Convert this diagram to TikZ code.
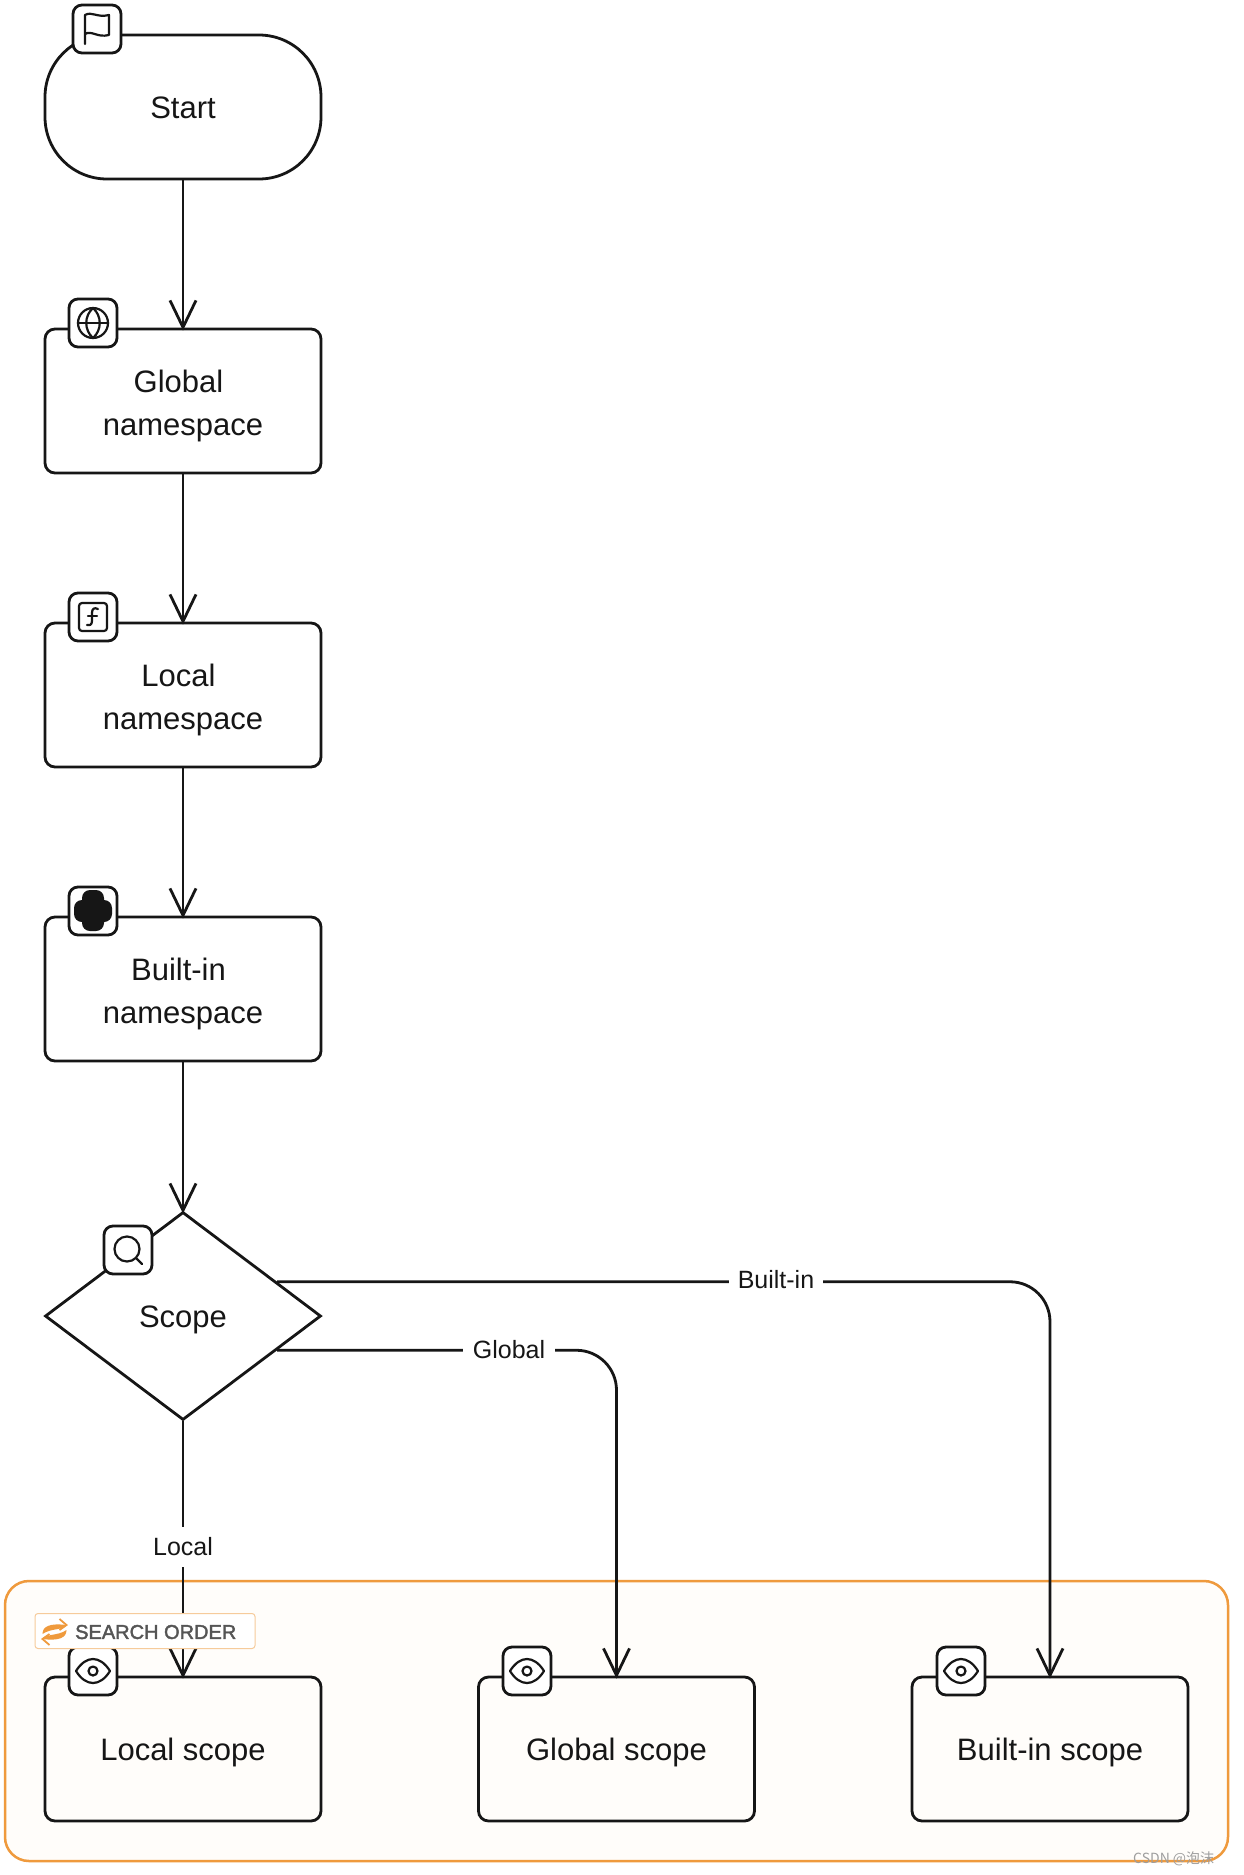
\documentclass[tikz,border=0pt]{standalone}
\usepackage{fontspec}
\setmainfont{Liberation Sans}
\newfontfamily\cjkwm{Noto Sans CJK SC}
\usetikzlibrary{arrows.meta,shapes.geometric}
\definecolor{ink}{HTML}{161616}
\definecolor{grouporange}{HTML}{EF9A3D}
\definecolor{groupfill}{HTML}{FFFDFA}
\definecolor{chipborder}{HTML}{F6CB9B}
\definecolor{chiptext}{HTML}{555555}
\newcommand{\labelstrut}{\rule[-8pt]{0pt}{38pt}}
\tikzset{
  x=1pt,y=-1pt,
  lw/.style={line width=2.8pt},
  boxbase/.style={draw=ink,lw,fill=white,rectangle,rounded corners=10pt,minimum width=276pt,minimum height=144pt,inner sep=0pt},
  flowbox/.style={boxbase,align=center,text=ink,font=\fontsize{31}{43}\selectfont,execute at begin node={\labelstrut}},
  twolinetext/.style={inner sep=0pt,align=center,text=ink,font=\fontsize{31}{43}\selectfont,yshift=-4.8pt},
  scopebox/.style={flowbox,fill=groupfill},
  badge/.style={draw=ink,lw,fill=white,rectangle,rounded corners=9pt,minimum width=48pt,minimum height=48pt,inner sep=0pt},
  flow/.style={draw=ink,lw,shorten >=-3pt,-{Straight Barb[length=27pt,width=26pt,line width=2.8pt]}},
  edgelabel/.style={fill=white,text=ink,inner sep=0pt,minimum height=36pt,font=\fontsize{25}{30}\selectfont},
  icon/.style={draw=ink,line width=2.2pt,line cap=round,line join=round},
}
\begin{document}
\begin{tikzpicture}
\useasboundingbox[fill=white] (0,0) rectangle (1244,1875);
% group
\node (group) [draw=grouporange,line width=2.5pt,fill=groupfill,rectangle,rounded corners=24pt,minimum width=1223pt,minimum height=280pt,inner sep=0pt] at (616.5,1721) {};
% nodes
\node (start) [flowbox,rounded corners=62pt] at (183,107) {Start};
\node (global) [boxbase,label={[twolinetext]center:Global\hspace*{9pt}\\namespace}] at (183,401) {};
\node (local) [boxbase,label={[twolinetext]center:Local\hspace*{9pt}\\namespace}] at (183,695) {};
\node (builtin) [boxbase,label={[twolinetext]center:Built-in\hspace*{9pt}\\namespace}] at (183,989) {};
\node (scope) [draw=ink,lw,fill=white,diamond,minimum width=276pt,minimum height=208pt,inner sep=0pt,text=ink,align=center,font=\fontsize{31}{36}\selectfont,execute at begin node={\labelstrut}] at (183,1316) {Scope};
\node (lscope) [scopebox] at (183,1749) {Local scope};
\node (gscope) [scopebox] at (616.5,1749) {Global scope};
\node (bscope) [scopebox] at (1050,1749) {Built-in scope};
% connectors
\draw[flow] (start.south) -- (global.north);
\draw[flow] (global.south) -- (local.north);
\draw[flow] (local.south) -- (builtin.north);
\draw[flow] (builtin.south) -- (scope.north);
\draw[flow] (scope.south) -- (lscope.north);
\draw[flow,rounded corners=40pt] (scope.-20.9) -| (gscope.north);
\draw[flow,rounded corners=40pt] (scope.20.9) -| (bscope.north);
% labels
\node (lbllocal) [edgelabel,minimum width=80pt,minimum height=40pt] at (183,1547) {Local};
\node (lblglobal) [edgelabel,minimum width=92pt] at (509,1350) {Global};
\node (lblbuilt) [edgelabel,minimum width=94pt] at (776,1280) {Built-in};
% badges
\node (b1) [badge] at (97,29) {};
\node (b2) [badge] at (93,323) {};
\node (b3) [badge] at (93,617) {};
\node (b4) [badge] at (93,911) {};
\node (b5) [badge] at (128,1250) {};
\node (b6) [badge] at (93,1671) {};
\node (b7) [badge] at (527,1671) {};
\node (b8) [badge] at (961,1671) {};
% flag
\begin{scope}[shift={(b1.center)}]
\draw[icon] (-12,15) -- (-12,-14) .. controls (-5,-18) and (0,-11) .. (12,-14) -- (12,6) .. controls (0,9) and (-5,1) .. (-12,5);
\end{scope}
% globe
\begin{scope}[shift={(b2.center)}]
\draw[icon] (0,0) circle (15);
\draw[icon] (-15,0) -- (15,0);
\draw[icon] (0,-15) .. controls (-9,-7) and (-9,7) .. (0,15) .. controls (9,7) and (9,-7) .. (0,-15);
\end{scope}
% function
\begin{scope}[shift={(b3.center)}]
\draw[icon,rounded corners=3pt] (-14,-14) rectangle (14,14);
\draw[icon] (5,-8) .. controls (1,-10) and (-1,-8) .. (-1,-4) -- (-1,4) .. controls (-1,8) and (-4,9) .. (-6,8);
\draw[icon] (-5,-1) -- (4,-1);
\end{scope}
% python blob
\begin{scope}[shift={(b4.center)}]
\fill[ink,rounded corners=8pt] (-11,-21) rectangle (11,20);
\fill[ink,rounded corners=8pt] (-19,-11) rectangle (19,11);
\end{scope}
% search
\begin{scope}[shift={(b5.center)}]
\draw[icon] (-1,-1) circle (12.5);
\draw[icon] (8,8) -- (14,14);
\end{scope}
% eyes
\foreach \b in {b6,b7,b8}{
\begin{scope}[shift={(\b.center)}]
\draw[icon] (-17,0) .. controls (-7,-16) and (7,-16) .. (17,0) .. controls (7,16) and (-7,16) .. (-17,0) -- cycle;
\draw[icon] (0,0) circle (4.5);
\end{scope}
}
% chip
\node (chip) [draw=chipborder,line width=1pt,fill=white,rectangle,rounded corners=3pt,minimum width=220pt,minimum height=35pt,inner sep=0pt] at (145,1631) {};
\node (chiptext) [anchor=west,inner sep=0pt,text=chiptext,font=\fontsize{20}{24}\selectfont] at (75,1632) {\addfontfeature{FakeBold=2}SEARCH ORDER};
\begin{scope}[shift={(chip.west)}]
\fill[grouporange] (8,3) .. controls (8,-5) and (16,-8) .. (32,-6) .. controls (31,-1) and (16,-3) .. (8,3) -- cycle;
\draw[grouporange,line width=1.8pt] (25,-12) -- (32,-6) -- (25,-1);
\begin{scope}[shift={(40,2)},rotate=180]
\fill[grouporange] (8,3) .. controls (8,-5) and (16,-8) .. (32,-6) .. controls (31,-1) and (16,-3) .. (8,3) -- cycle;
\draw[grouporange,line width=1.8pt] (25,-12) -- (32,-6) -- (25,-1);
\end{scope}
\end{scope}
% watermark
\node (wm) [anchor=west,inner sep=0pt,text=black!38,font=\fontsize{14}{16}\selectfont\cjkwm] at (1133,1859) {CSDN @泡沫};
\end{tikzpicture}
\end{document}
